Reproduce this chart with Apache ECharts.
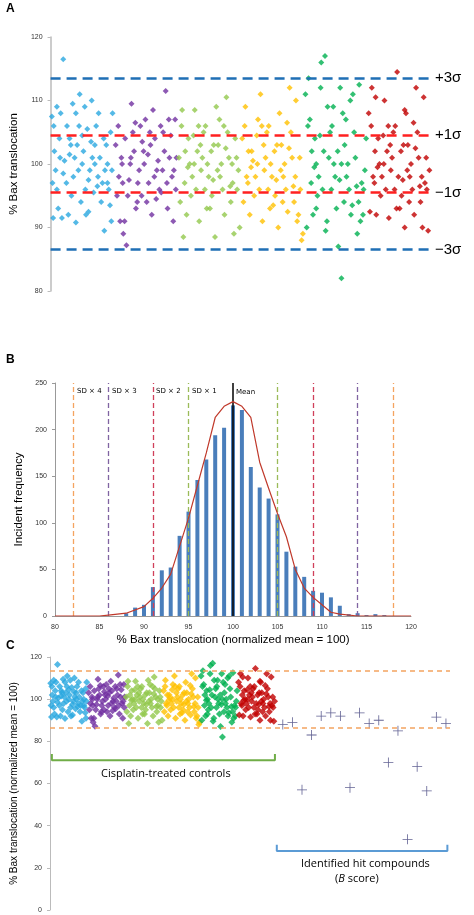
<!DOCTYPE html><html><head><meta charset="utf-8">
<script src="https://cdn.jsdelivr.net/npm/echarts@6/dist/echarts.min.js"></script>
<style>html,body{margin:0;padding:0;background:#fff}#c{width:474px;height:915px}</style></head><body><div id="c"></div>
<script>
// Panel A / C control groups: [fraction within group, % Bax translocation]
const cyanPts=[[.02,107.5],[.05,106],[.1,109],[.2,116.5],[.15,101],[.08,99],[.12,93],[.18,91.5],[.25,97],[.3,104],[.35,109.5],[.4,108],[.45,106],[.5,100],[.55,96],[.6,92.5],[.65,110],[.7,103],[.75,98],[.8,94],[.85,89.5],[.9,100],[.95,105],[.98,108],[.03,97],[.22,100.5],[.28,92],[.33,95],[.38,101],[.42,103],[.48,94],[.52,102],[.58,105.5],[.62,99],[.68,95.5],[.72,106],[.78,101],[.82,97],[.88,103],[.92,96],[.97,99],[.06,102],[.14,104],[.26,106],[.36,98],[.46,111],[.56,92],[.66,101],[.76,108],[.86,99],[.94,93.5],[.4,90.8],[.32,103],[.6,97.5],[.1,96],[.2,98.5],[.5,104.5],[.7,100],[.9,97],[.84,104],[.44,99],[.64,103.5],[.16,108],[.74,96.5],[.54,109],[.96,91],[.04,91.5],[.3,101.5]];
const purplePts=[[.03,103],[.08,98],[.12,101],[.18,104],[.22,95],[.28,109.5],[.32,102],[.38,97],[.42,106],[.48,100],[.52,94],[.58,103],[.62,108.5],[.68,99],[.72,96],[.78,105],[.82,111.5],[.88,101],[.92,98],[.97,107],[.05,95],[.1,91],[.15,89],[.2,87.2],[.26,100],[.3,105],[.35,93],[.4,99],[.45,103.5],[.5,107],[.55,97],[.6,92],[.65,104],[.7,100.5],[.75,95.5],[.8,102],[.85,93],[.9,104.5],[.95,99],[.99,101],[.07,106],[.13,100],[.24,97.5],[.34,106.5],[.44,95],[.54,101.5],[.64,98],[.74,106],[.84,97],[.94,91],[.98,96],[.17,91],[.37,94],[.57,105],[.77,99],[.87,107],[.47,102],[.67,94.5],[.27,101],[.14,97]];
const lgreenPts=[[.03,101],[.08,108.5],[.12,97],[.18,104],[.22,95],[.28,108.5],[.32,102],[.38,99],[.42,105],[.48,100],[.52,93],[.58,103],[.62,109],[.68,98],[.72,96],[.78,110.5],[.82,101],[.88,97],[.92,104],[.97,99],[.05,94],[.1,88.5],[.15,92],[.2,100],[.26,104.5],[.3,96],[.35,91],[.4,101],[.45,106],[.5,98],[.55,95],[.6,88.5],[.65,103],[.7,100],[.75,92],[.8,105],[.85,94],[.9,89],[.95,96],[.99,90],[.07,106],[.13,102],[.24,98],[.34,106],[.44,96],[.54,102],[.64,99],[.74,106],[.84,96.5],[.94,101],[.17,99.5],[.37,103],[.57,97.5],[.77,102.5],[.47,93],[.67,107],[.27,100],[.87,100]];
const yellowPts=[[.03,104],[.08,109],[.12,97],[.18,102],[.22,95],[.28,107],[.32,111],[.38,99],[.42,105],[.48,100],[.52,93.5],[.58,103],[.62,108],[.68,98],[.72,96],[.78,112],[.82,101],[.88,110],[.92,92],[.97,88],[.05,94],[.1,98],[.15,92],[.2,100.5],[.26,104.5],[.3,96],[.35,91],[.4,101],[.45,106],[.5,98],[.55,95],[.6,90],[.65,103],[.7,100],[.75,92.5],[.8,105],[.85,94],[.9,91],[.95,96],[.99,89],[.07,106],[.13,102],[.24,98],[.34,106],[.44,96],[.54,102],[.64,99],[.74,106.5],[.84,96.5],[.94,101],[.17,99.5],[.37,103],[.57,97.5],[.77,102.5],[.47,93],[.67,94],[.27,100],[.87,98]];
const greenPts=[[.03,111],[.08,113.5],[.12,97],[.18,104],[.22,95],[.28,116],[.32,102],[.38,109],[.42,105],[.48,100],[.52,93],[.58,112],[.62,108],[.68,98],[.72,96],[.78,111],[.82,101],[.88,112.5],[.92,97],[.97,99],[.05,90],[.1,107],[.15,92],[.2,100],[.26,104.5],[.3,96],[.35,89.5],[.4,101],[.45,106],[.5,98],[.55,87],[.6,82],[.65,103],[.7,100],[.75,92],[.8,105],[.85,89],[.9,91],[.95,96],[.99,104],[.07,106],[.13,102],[.24,98],[.34,117],[.44,96],[.54,102],[.64,94],[.74,110],[.84,96.5],[.94,92],[.17,99.5],[.37,91],[.57,97.5],[.77,93.5],[.47,109],[.67,107],[.27,112],[.87,94],[.2,93],[.6,100]];
const redPts=[[.03,108],[.08,112],[.12,97],[.18,104],[.22,95],[.28,110],[.32,102],[.38,99],[.42,105],[.48,114.5],[.52,93],[.58,103],[.62,108],[.68,98],[.72,96],[.78,112],[.82,101],[.88,90],[.92,97],[.97,89.5],[.05,92.5],[.1,98],[.15,92],[.2,100],[.26,104.5],[.3,96],[.35,91.5],[.4,101],[.45,106],[.5,98],[.55,95],[.6,90],[.65,103],[.7,100],[.75,92],[.8,105],[.85,94],[.9,110.5],[.95,96],[.99,99],[.07,106],[.13,102],[.24,98],[.34,106],[.44,96],[.54,102],[.64,99],[.74,106.5],[.84,96.5],[.94,101],[.17,99.5],[.37,103],[.57,97.5],[.77,102.5],[.47,93],[.67,94],[.27,100],[.87,98],[.14,110.5],[.6,108.5]];
const groupColors=['#29a8e0','#7030a0','#92c84c','#ffc000','#00b050','#c00000'];
const groups=[cyanPts,purplePts,lgreenPts,yellowPts,greenPts,redPts];
const sigmaA=[{y:113.5,l:'+3σ',c:'#1f6fb5'},{y:104.6,l:'+1σ',c:'#ff2020'},{y:95.5,l:'\u22121σ',c:'#ff2020'},{y:86.5,l:'\u22123σ',c:'#1f6fb5'}];
// Panel B
const histX=[88,89,90,91,92,93,94,95,96,97,98,99,100,101,102,103,104,105,106,107,108,109,110,111,112,113,114,115,116,117];
const histY=[3,9,12,31,49,52,86,112,146,168,194,202,226,221,160,138,126,109,69,53,42,27,25,20,11,2,3,1,2,1];
const curve=[[80,0],[85,0],[86,1],[88,3],[90,10],[91,19],[92,30],[93,45],[94,75],[95,105],[96,140],[97,175],[98,213],[99,225],[100,230],[101,225],[102,213],[103,165],[104,137],[105,110],[106,85],[107,50],[108,30],[109,20],[110,12],[111,4],[112,2],[114,0],[120,0]];
const sdLines=[{x:82,c:'#f4a460'},{x:118,c:'#f4a460'},{x:86,c:'#8064a2'},{x:114,c:'#8064a2'},{x:91,c:'#d0405a'},{x:109,c:'#d0405a'},{x:95,c:'#9bbb59'},{x:105,c:'#9bbb59'}];
const sdLabels=['SD × 4','SD × 3','SD × 2','SD × 1','Mean'];
// Panel C hits
const hitY=[88,89,57,83,92,93.5,92,58,93.5,88.5,90,70,85,33.5,68,56.5,91.5,88.5];

const series=[];
function groupData(pts,g){return pts.map(p=>[g+p[0],p[1]]);}
groups.forEach((pts,g)=>{
  series.push({type:'scatter',xAxisIndex:0,yAxisIndex:0,data:groupData(pts,g),symbol:'diamond',symbolSize:6,itemStyle:{color:groupColors[g]},silent:true});
  series.push({type:'scatter',xAxisIndex:2,yAxisIndex:2,data:groupData(pts,g),symbol:'diamond',symbolSize:7,itemStyle:{color:groupColors[g]},silent:true});
});
series.push({type:'line',xAxisIndex:0,yAxisIndex:0,data:[],markLine:{symbol:'none',silent:true,
  data:sigmaA.map(s=>({yAxis:s.y,lineStyle:{color:s.c,type:[10,6],width:2.5},label:{show:true,position:'end',formatter:s.l,color:'#000',fontSize:15,distance:5}}))}});
series.push({type:'bar',xAxisIndex:1,yAxisIndex:1,data:histX.map((x,i)=>[x,histY[i]]),barWidth:4,itemStyle:{color:'#4a7ebb'}});
series.push({type:'line',xAxisIndex:1,yAxisIndex:1,data:curve,symbol:'none',lineStyle:{color:'#c0392b',width:1.2},z:5,
  markLine:{symbol:'none',silent:true,label:{show:false},data:sdLines.map(s=>({xAxis:s.x,lineStyle:{color:s.c,type:[5,3],width:1.3}})).concat([{xAxis:100,lineStyle:{color:'#000',type:'solid',width:1.5}}])}});
series.push({type:'scatter',xAxisIndex:2,yAxisIndex:2,data:hitY.map((y,i)=>[6.21+0.256*i,y]),symbol:'path://M4.6,0h0.8v4.6h4.6v0.8h-4.6v4.6h-0.8v-4.6h-4.6v-0.8h4.6z',symbolSize:10,itemStyle:{color:'#3b3b78'},
  markLine:{symbol:'none',silent:true,label:{show:false},data:[{yAxis:113.5},{yAxis:86.5}],lineStyle:{color:'#f4a460',type:[5,4],width:1.5}}});
series.push({type:'line',xAxisIndex:2,yAxisIndex:2,data:[[0.05,74],[0.05,71],[6,71],[6,74]],symbol:'none',lineStyle:{color:'#70ad47',width:2}});
series.push({type:'line',xAxisIndex:2,yAxisIndex:2,data:[[6.05,31],[6.05,28],[10.6,28],[10.6,31]],symbol:'none',lineStyle:{color:'#5b9bd5',width:2}});

const axLbl={fontSize:7,color:'#333'};
const option={animation:false,
 grid:[{left:35,right:44,top:37,height:254},{left:55,right:63,top:383,height:233},{left:50,right:24,top:657,height:253}],
 xAxis:[{type:'value',gridIndex:0,min:0,max:6,show:false},
  {type:'value',gridIndex:1,min:80,max:120,interval:5,axisLine:{lineStyle:{color:'#999'}},axisTick:{show:false},axisLabel:axLbl,splitLine:{show:false},
   name:'% Bax translocation (normalized mean = 100)',nameLocation:'middle',nameGap:18,nameTextStyle:{fontSize:11.5,color:'#000'}},
  {type:'value',gridIndex:2,min:0,max:10.67,show:false}],
 yAxis:[{type:'value',gridIndex:0,min:80,max:120,interval:10,axisLine:{show:true,lineStyle:{color:'#bbb',width:1.5}},axisTick:{show:true,length:3,lineStyle:{color:'#bbb'}},axisLabel:axLbl,splitLine:{show:false},
   name:'% Bax translocation',nameLocation:'middle',nameGap:23,nameTextStyle:{fontSize:11.5,color:'#000'}},
  {type:'value',gridIndex:1,min:0,max:250,interval:50,axisLine:{show:true,lineStyle:{color:'#999'}},axisTick:{show:true,length:3},axisLabel:axLbl,splitLine:{show:false},
   name:'Incident frequency',nameLocation:'middle',nameGap:27,nameTextStyle:{fontSize:11.5,color:'#000'}},
  {type:'value',gridIndex:2,min:0,max:120,interval:20,axisLine:{show:true,lineStyle:{color:'#bbb'}},axisTick:{show:true,length:3,lineStyle:{color:'#bbb'}},axisLabel:axLbl,splitLine:{show:false},
   name:'% Bax translocation (normalized mean = 100)',nameLocation:'middle',nameGap:24,nameTextStyle:{fontSize:10,color:'#000'}}],
 series:series,
 graphic:[
  {type:'text',left:6,top:3,style:{text:'A',font:'bold 12px Arial',fill:'#000'}},
  {type:'text',left:6,top:354,style:{text:'B',font:'bold 12px Arial',fill:'#000'}},
  {type:'text',left:6,top:640,style:{text:'C',font:'bold 12px Arial',fill:'#000'}},
  {type:'text',left:77,top:388,style:{text:sdLabels[0],font:'7px "DejaVu Sans"',fill:'#000'}},
  {type:'text',left:112,top:388,style:{text:sdLabels[1],font:'7px "DejaVu Sans"',fill:'#000'}},
  {type:'text',left:156,top:388,style:{text:sdLabels[2],font:'7px "DejaVu Sans"',fill:'#000'}},
  {type:'text',left:192,top:388,style:{text:sdLabels[3],font:'7px "DejaVu Sans"',fill:'#000'}},
  {type:'text',left:236,top:389,style:{text:sdLabels[4],font:'7px "DejaVu Sans"',fill:'#000'}},
  {type:'text',left:101,top:768,style:{text:'Cisplatin-treated controls',font:'11px "Open Sans"',fill:'#000'}},
  {type:'text',left:301,top:858,style:{text:'Identified hit compounds',font:'11px "Open Sans"',fill:'#000'}},
  {type:'text',left:335,top:873,style:{rich:{i:{fontStyle:'italic',fontSize:11,fontFamily:'Open Sans'},n:{fontSize:11,fontFamily:'Open Sans'}},text:'{n|(}{i|B}{n| score)}'}}
 ]};
echarts.init(document.getElementById('c')).setOption(option);
</script></body></html>
